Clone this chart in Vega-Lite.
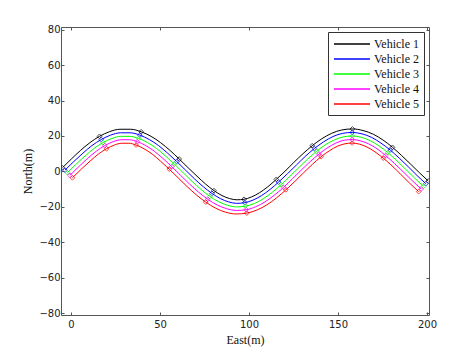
{
  "$schema": "https://vega.github.io/schema/vega-lite/v6.json",
  "width": 368,
  "height": 288,
  "autosize": "none",
  "padding": {"left": 61, "top": 27, "right": 45, "bottom": 40},
  "background": "white",
  "config": {
    "view": {"stroke": null},
    "axis": {
      "grid": false,
      "domainColor": "#555555",
      "tickColor": "#555555",
      "tickSize": -3,
      "labelFont": "DejaVu Sans",
      "labelFontSize": 10,
      "labelColor": "#222222",
      "titleFont": "Liberation Serif",
      "titleFontSize": 12,
      "titleFontWeight": "normal",
      "titleColor": "#111111"
    }
  },
  "datasets": {
    "track": [
      {"v":"Vehicle 1","t":0,"x":-4.8,"y":2.1},{"v":"Vehicle 1","t":1,"x":0.2,"y":7.0},{"v":"Vehicle 1","t":2,"x":5.3,"y":11.8},{"v":"Vehicle 1","t":3,"x":10.6,"y":16.2},{"v":"Vehicle 1","t":4,"x":16.0,"y":19.8},{"v":"Vehicle 1","t":5,"x":21.6,"y":22.4},{"v":"Vehicle 1","t":6,"x":27.5,"y":23.8},{"v":"Vehicle 1","t":7,"x":33.5,"y":23.8},{"v":"Vehicle 1","t":8,"x":39.4,"y":22.4},{"v":"Vehicle 1","t":9,"x":45.0,"y":19.8},{"v":"Vehicle 1","t":10,"x":50.4,"y":16.2},{"v":"Vehicle 1","t":11,"x":55.7,"y":11.8},{"v":"Vehicle 1","t":12,"x":60.8,"y":7.0},{"v":"Vehicle 1","t":13,"x":65.8,"y":2.1},{"v":"Vehicle 1","t":14,"x":70.8,"y":-2.7},{"v":"Vehicle 1","t":15,"x":75.6,"y":-7.1},{"v":"Vehicle 1","t":16,"x":80.3,"y":-10.8},{"v":"Vehicle 1","t":17,"x":84.8,"y":-13.6},{"v":"Vehicle 1","t":18,"x":89.1,"y":-15.3},{"v":"Vehicle 1","t":19,"x":93.2,"y":-16.0},{"v":"Vehicle 1","t":20,"x":97.2,"y":-15.7},{"v":"Vehicle 1","t":21,"x":101.4,"y":-14.4},{"v":"Vehicle 1","t":22,"x":105.9,"y":-12.0},{"v":"Vehicle 1","t":23,"x":110.5,"y":-8.7},{"v":"Vehicle 1","t":24,"x":115.3,"y":-4.5},{"v":"Vehicle 1","t":25,"x":120.2,"y":0.1},{"v":"Vehicle 1","t":26,"x":125.2,"y":5.1},{"v":"Vehicle 1","t":27,"x":130.3,"y":10.0},{"v":"Vehicle 1","t":28,"x":135.5,"y":14.5},{"v":"Vehicle 1","t":29,"x":140.8,"y":18.4},{"v":"Vehicle 1","t":30,"x":146.4,"y":21.5},{"v":"Vehicle 1","t":31,"x":152.1,"y":23.4},{"v":"Vehicle 1","t":32,"x":158.1,"y":24.0},{"v":"Vehicle 1","t":33,"x":164.0,"y":23.1},{"v":"Vehicle 1","t":34,"x":169.8,"y":21.0},{"v":"Vehicle 1","t":35,"x":175.3,"y":17.7},{"v":"Vehicle 1","t":36,"x":180.6,"y":13.6},{"v":"Vehicle 1","t":37,"x":185.7,"y":9.0},{"v":"Vehicle 1","t":38,"x":190.8,"y":4.1},{"v":"Vehicle 1","t":39,"x":195.8,"y":-0.8},{"v":"Vehicle 1","t":40,"x":200.7,"y":-5.4},
      {"v":"Vehicle 2","t":0,"x":-3.4,"y":0.7},{"v":"Vehicle 2","t":1,"x":1.6,"y":5.6},{"v":"Vehicle 2","t":2,"x":6.7,"y":10.3},{"v":"Vehicle 2","t":3,"x":11.8,"y":14.6},{"v":"Vehicle 2","t":4,"x":17.0,"y":18.0},{"v":"Vehicle 2","t":5,"x":22.3,"y":20.5},{"v":"Vehicle 2","t":6,"x":27.8,"y":21.8},{"v":"Vehicle 2","t":7,"x":33.2,"y":21.8},{"v":"Vehicle 2","t":8,"x":38.7,"y":20.5},{"v":"Vehicle 2","t":9,"x":44.0,"y":18.0},{"v":"Vehicle 2","t":10,"x":49.2,"y":14.6},{"v":"Vehicle 2","t":11,"x":54.3,"y":10.3},{"v":"Vehicle 2","t":12,"x":59.4,"y":5.6},{"v":"Vehicle 2","t":13,"x":64.4,"y":0.7},{"v":"Vehicle 2","t":14,"x":69.4,"y":-4.2},{"v":"Vehicle 2","t":15,"x":74.3,"y":-8.6},{"v":"Vehicle 2","t":16,"x":79.2,"y":-12.4},{"v":"Vehicle 2","t":17,"x":83.9,"y":-15.3},{"v":"Vehicle 2","t":18,"x":88.6,"y":-17.2},{"v":"Vehicle 2","t":19,"x":93.1,"y":-18.0},{"v":"Vehicle 2","t":20,"x":97.6,"y":-17.6},{"v":"Vehicle 2","t":21,"x":102.2,"y":-16.2},{"v":"Vehicle 2","t":22,"x":106.9,"y":-13.7},{"v":"Vehicle 2","t":23,"x":111.8,"y":-10.2},{"v":"Vehicle 2","t":24,"x":116.6,"y":-6.0},{"v":"Vehicle 2","t":25,"x":121.6,"y":-1.3},{"v":"Vehicle 2","t":26,"x":126.6,"y":3.6},{"v":"Vehicle 2","t":27,"x":131.6,"y":8.5},{"v":"Vehicle 2","t":28,"x":136.7,"y":12.9},{"v":"Vehicle 2","t":29,"x":141.9,"y":16.7},{"v":"Vehicle 2","t":30,"x":147.2,"y":19.7},{"v":"Vehicle 2","t":31,"x":152.6,"y":21.5},{"v":"Vehicle 2","t":32,"x":158.0,"y":22.0},{"v":"Vehicle 2","t":33,"x":163.5,"y":21.2},{"v":"Vehicle 2","t":34,"x":168.9,"y":19.2},{"v":"Vehicle 2","t":35,"x":174.1,"y":16.0},{"v":"Vehicle 2","t":36,"x":179.3,"y":12.1},{"v":"Vehicle 2","t":37,"x":184.4,"y":7.5},{"v":"Vehicle 2","t":38,"x":189.4,"y":2.7},{"v":"Vehicle 2","t":39,"x":194.4,"y":-2.3},{"v":"Vehicle 2","t":40,"x":199.3,"y":-6.9},
      {"v":"Vehicle 3","t":0,"x":-2,"y":-0.7},{"v":"Vehicle 3","t":1,"x":3,"y":4.2},{"v":"Vehicle 3","t":2,"x":8,"y":8.8},{"v":"Vehicle 3","t":3,"x":13,"y":13.0},{"v":"Vehicle 3","t":4,"x":18,"y":16.3},{"v":"Vehicle 3","t":5,"x":23,"y":18.6},{"v":"Vehicle 3","t":6,"x":28,"y":19.8},{"v":"Vehicle 3","t":7,"x":33,"y":19.8},{"v":"Vehicle 3","t":8,"x":38,"y":18.6},{"v":"Vehicle 3","t":9,"x":43,"y":16.3},{"v":"Vehicle 3","t":10,"x":48,"y":13.0},{"v":"Vehicle 3","t":11,"x":53,"y":8.8},{"v":"Vehicle 3","t":12,"x":58,"y":4.2},{"v":"Vehicle 3","t":13,"x":63,"y":-0.7},{"v":"Vehicle 3","t":14,"x":68,"y":-5.6},{"v":"Vehicle 3","t":15,"x":73,"y":-10.1},{"v":"Vehicle 3","t":16,"x":78,"y":-14.1},{"v":"Vehicle 3","t":17,"x":83,"y":-17.1},{"v":"Vehicle 3","t":18,"x":88,"y":-19.1},{"v":"Vehicle 3","t":19,"x":93,"y":-20.0},{"v":"Vehicle 3","t":20,"x":98,"y":-19.6},{"v":"Vehicle 3","t":21,"x":103,"y":-18.1},{"v":"Vehicle 3","t":22,"x":108,"y":-15.4},{"v":"Vehicle 3","t":23,"x":113,"y":-11.8},{"v":"Vehicle 3","t":24,"x":118,"y":-7.5},{"v":"Vehicle 3","t":25,"x":123,"y":-2.7},{"v":"Vehicle 3","t":26,"x":128,"y":2.2},{"v":"Vehicle 3","t":27,"x":133,"y":7.0},{"v":"Vehicle 3","t":28,"x":138,"y":11.4},{"v":"Vehicle 3","t":29,"x":143,"y":15.1},{"v":"Vehicle 3","t":30,"x":148,"y":17.8},{"v":"Vehicle 3","t":31,"x":153,"y":19.5},{"v":"Vehicle 3","t":32,"x":158,"y":20.0},{"v":"Vehicle 3","t":33,"x":163,"y":19.3},{"v":"Vehicle 3","t":34,"x":168,"y":17.4},{"v":"Vehicle 3","t":35,"x":173,"y":14.4},{"v":"Vehicle 3","t":36,"x":178,"y":10.6},{"v":"Vehicle 3","t":37,"x":183,"y":6.1},{"v":"Vehicle 3","t":38,"x":188,"y":1.2},{"v":"Vehicle 3","t":39,"x":193,"y":-3.7},{"v":"Vehicle 3","t":40,"x":198,"y":-8.4},
      {"v":"Vehicle 4","t":0,"x":-0.6,"y":-2.2},{"v":"Vehicle 4","t":1,"x":4.4,"y":2.7},{"v":"Vehicle 4","t":2,"x":9.3,"y":7.3},{"v":"Vehicle 4","t":3,"x":14.2,"y":11.4},{"v":"Vehicle 4","t":4,"x":19.0,"y":14.6},{"v":"Vehicle 4","t":5,"x":23.7,"y":16.8},{"v":"Vehicle 4","t":6,"x":28.2,"y":17.9},{"v":"Vehicle 4","t":7,"x":32.8,"y":17.9},{"v":"Vehicle 4","t":8,"x":37.3,"y":16.8},{"v":"Vehicle 4","t":9,"x":42.0,"y":14.6},{"v":"Vehicle 4","t":10,"x":46.8,"y":11.4},{"v":"Vehicle 4","t":11,"x":51.7,"y":7.3},{"v":"Vehicle 4","t":12,"x":56.6,"y":2.7},{"v":"Vehicle 4","t":13,"x":61.6,"y":-2.2},{"v":"Vehicle 4","t":14,"x":66.6,"y":-7.1},{"v":"Vehicle 4","t":15,"x":71.7,"y":-11.7},{"v":"Vehicle 4","t":16,"x":76.8,"y":-15.7},{"v":"Vehicle 4","t":17,"x":82.1,"y":-18.9},{"v":"Vehicle 4","t":18,"x":87.4,"y":-21.0},{"v":"Vehicle 4","t":19,"x":92.9,"y":-22.0},{"v":"Vehicle 4","t":20,"x":98.4,"y":-21.6},{"v":"Vehicle 4","t":21,"x":103.8,"y":-19.9},{"v":"Vehicle 4","t":22,"x":109.1,"y":-17.1},{"v":"Vehicle 4","t":23,"x":114.2,"y":-13.4},{"v":"Vehicle 4","t":24,"x":119.4,"y":-9.0},{"v":"Vehicle 4","t":25,"x":124.4,"y":-4.1},{"v":"Vehicle 4","t":26,"x":129.4,"y":0.8},{"v":"Vehicle 4","t":27,"x":134.4,"y":5.6},{"v":"Vehicle 4","t":28,"x":139.3,"y":9.8},{"v":"Vehicle 4","t":29,"x":144.1,"y":13.4},{"v":"Vehicle 4","t":30,"x":148.8,"y":16.0},{"v":"Vehicle 4","t":31,"x":153.4,"y":17.6},{"v":"Vehicle 4","t":32,"x":158.0,"y":18.0},{"v":"Vehicle 4","t":33,"x":162.5,"y":17.3},{"v":"Vehicle 4","t":34,"x":167.1,"y":15.6},{"v":"Vehicle 4","t":35,"x":171.9,"y":12.8},{"v":"Vehicle 4","t":36,"x":176.7,"y":9.0},{"v":"Vehicle 4","t":37,"x":181.6,"y":4.6},{"v":"Vehicle 4","t":38,"x":186.6,"y":-0.2},{"v":"Vehicle 4","t":39,"x":191.6,"y":-5.1},{"v":"Vehicle 4","t":40,"x":196.7,"y":-9.9},
      {"v":"Vehicle 5","t":0,"x":0.8,"y":-3.6},{"v":"Vehicle 5","t":1,"x":5.8,"y":1.3},{"v":"Vehicle 5","t":2,"x":10.7,"y":5.8},{"v":"Vehicle 5","t":3,"x":15.4,"y":9.8},{"v":"Vehicle 5","t":4,"x":20.0,"y":12.8},{"v":"Vehicle 5","t":5,"x":24.4,"y":14.9},{"v":"Vehicle 5","t":6,"x":28.5,"y":15.9},{"v":"Vehicle 5","t":7,"x":32.5,"y":15.9},{"v":"Vehicle 5","t":8,"x":36.6,"y":14.9},{"v":"Vehicle 5","t":9,"x":41.0,"y":12.8},{"v":"Vehicle 5","t":10,"x":45.6,"y":9.8},{"v":"Vehicle 5","t":11,"x":50.3,"y":5.8},{"v":"Vehicle 5","t":12,"x":55.2,"y":1.3},{"v":"Vehicle 5","t":13,"x":60.2,"y":-3.6},{"v":"Vehicle 5","t":14,"x":65.2,"y":-8.5},{"v":"Vehicle 5","t":15,"x":70.4,"y":-13.2},{"v":"Vehicle 5","t":16,"x":75.7,"y":-17.3},{"v":"Vehicle 5","t":17,"x":81.2,"y":-20.7},{"v":"Vehicle 5","t":18,"x":86.9,"y":-23.0},{"v":"Vehicle 5","t":19,"x":92.8,"y":-24.0},{"v":"Vehicle 5","t":20,"x":98.8,"y":-23.5},{"v":"Vehicle 5","t":21,"x":104.6,"y":-21.7},{"v":"Vehicle 5","t":22,"x":110.1,"y":-18.8},{"v":"Vehicle 5","t":23,"x":115.5,"y":-14.9},{"v":"Vehicle 5","t":24,"x":120.7,"y":-10.4},{"v":"Vehicle 5","t":25,"x":125.8,"y":-5.6},{"v":"Vehicle 5","t":26,"x":130.8,"y":-0.6},{"v":"Vehicle 5","t":27,"x":135.7,"y":4.1},{"v":"Vehicle 5","t":28,"x":140.5,"y":8.3},{"v":"Vehicle 5","t":29,"x":145.2,"y":11.7},{"v":"Vehicle 5","t":30,"x":149.6,"y":14.2},{"v":"Vehicle 5","t":31,"x":153.9,"y":15.6},{"v":"Vehicle 5","t":32,"x":157.9,"y":16.0},{"v":"Vehicle 5","t":33,"x":162.0,"y":15.4},{"v":"Vehicle 5","t":34,"x":166.2,"y":13.8},{"v":"Vehicle 5","t":35,"x":170.7,"y":11.1},{"v":"Vehicle 5","t":36,"x":175.4,"y":7.5},{"v":"Vehicle 5","t":37,"x":180.3,"y":3.2},{"v":"Vehicle 5","t":38,"x":185.2,"y":-1.6},{"v":"Vehicle 5","t":39,"x":190.2,"y":-6.6},{"v":"Vehicle 5","t":40,"x":195.3,"y":-11.4}
    ]
  },
  "data": {"name": "track"},
  "layer": [
    {
      "mark": {"type": "line", "strokeWidth": 1, "clip": true, "interpolate": "monotone"},
      "encoding": {
        "x": {"field": "x", "type": "quantitative", "scale": {"domain": [-5.6, 201.1], "nice": false, "zero": false},
              "axis": {"orient": "bottom", "values": [0, 50, 100, 150, 200], "title": "East(m)", "labelPadding": 7, "titlePadding": 5}},
        "y": {"field": "y", "type": "quantitative", "scale": {"domain": [-81, 81.5], "nice": false, "zero": false},
              "axis": {"orient": "left", "values": [-80, -60, -40, -20, 0, 20, 40, 60, 80], "title": "North(m)", "labelPadding": 4, "titlePadding": 4}},
        "color": {"field": "v", "type": "nominal",
                  "scale": {"domain": ["Vehicle 1", "Vehicle 2", "Vehicle 3", "Vehicle 4", "Vehicle 5"], "range": ["#000000", "#0000ff", "#00ff00", "#ff00ff", "#ff0000"]},
                  "legend": {"title": null, "orient": "none", "legendX": 267, "legendY": 5,
                             "symbolType": "M-1,0H5", "symbolSize": 144, "symbolStrokeWidth": 1.5,
                             "labelOffset": 27, "labelFont": "Liberation Serif", "labelFontSize": 12, "labelColor": "#111111",
                             "padding": 5, "rowPadding": 2, "strokeColor": "#333333", "fillColor": "white"}},
        "order": {"field": "t", "type": "quantitative"}
      }
    },
    {
      "transform": [{"filter": "datum.t % 4 == 0"}],
      "mark": {"type": "point", "shape": "diamond", "filled": false, "size": 22, "strokeWidth": 1, "clip": true},
      "encoding": {
        "x": {"field": "x", "type": "quantitative",
              "axis": {"orient": "top", "values": [0, 50, 100, 150, 200], "labels": false, "title": null}},
        "y": {"field": "y", "type": "quantitative",
              "axis": {"orient": "right", "values": [-80, -60, -40, -20, 0, 20, 40, 60, 80], "labels": false, "title": null}},
        "color": {"field": "v", "type": "nominal", "legend": null}
      }
    }
  ],
  "resolve": {"axis": {"x": "independent", "y": "independent"}}
}
